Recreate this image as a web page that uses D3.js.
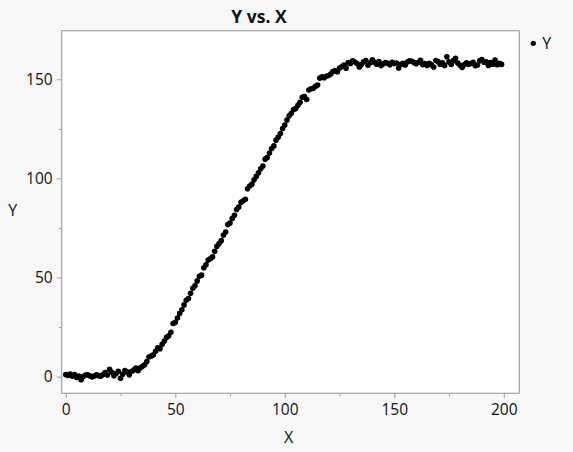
<!DOCTYPE html>
<html>
<head>
<meta charset="utf-8">
<script src="https://cdn.jsdelivr.net/npm/d3@7"></script>
<style>
  body { margin: 0; background: #f7f7f7; }
  text { font-family: "Open Sans", "Noto Sans", sans-serif; fill: #111; }
</style>
</head>
<body>
<script>
// X runs 0..199, one reading per step
const xValues = d3.range(0, 200);

// Y values, one per X
const yLow = [
  1.0, 0.6, 1.3, 0.2, 1.1, -0.4, 0.3, -1.6, 0.1, 0.8,
  0.9, 0.4, -0.2, 0.3, 0.9, 0.5, 0.2, 1.0, 2.1, 0.8,
  3.7, 2.2, 0.4, 1.6, 2.7, -0.8, 1.2, 3.1, 2.4, 0.9,
  2.6, 3.3, 4.3, 3.0, 4.5, 5.2, 6.0, 7.6, 9.9, 10.4
];
const yRise = [
  11.0, 12.8, 14.6, 14.1, 16.3, 18.0, 19.8, 20.6, 22.4, 26.8,
  27.4, 29.6, 31.9, 33.7, 36.2, 38.5, 39.4, 42.1, 44.6, 45.8,
  48.3, 50.6, 51.2, 54.9, 56.4, 58.8, 59.5, 60.4, 63.2, 65.8,
  67.1, 68.6, 71.4, 72.9, 76.7, 77.5, 79.8, 81.4, 84.3, 85.6,
  87.9, 88.7, 89.5, 94.8, 96.2, 97.1, 99.3, 101.0, 102.8, 104.9,
  106.2, 109.7, 110.5, 112.8, 115.1, 116.4, 119.3, 120.8, 122.6, 125.2,
  126.9, 129.4, 131.6, 132.8, 134.7, 135.2, 136.9, 138.4, 140.9, 141.3,
  139.8, 144.6, 145.2, 145.5, 146.4, 147.1, 150.6, 151.3, 150.8, 151.5,
  151.9, 152.6, 153.9, 154.4, 153.8, 155.7, 156.3, 157.2, 155.6, 158.4,
  158.0, 159.3, 158.7
];
const yPlateau = [
  157.9, 156.2, 157.4, 158.8, 159.5, 157.1, 158.3, 159.8, 158.5, 157.6,
  158.9, 156.9, 157.8, 158.4, 158.1, 157.3, 158.6, 157.9, 158.2, 155.7,
  157.5, 158.0, 157.2, 158.7, 159.3, 159.1, 158.4, 157.8, 158.6, 159.6,
  157.4, 157.9, 157.0, 158.1, 157.3, 156.2, 159.5, 158.9, 157.6, 158.3,
  157.0, 161.3, 158.8, 157.5, 159.4, 160.6, 158.2, 157.1, 155.9, 157.4,
  158.3, 157.6, 157.9, 158.5, 156.8, 157.2, 159.3, 159.9, 158.6, 158.8,
  157.0, 158.4, 157.6, 159.7, 157.3, 158.1, 157.5
];
const yValues = yLow.concat(yRise, yPlateau);

const xTicks = [0, 50, 100, 150, 200];
const xMinor = [25, 75, 125, 175];
const yTicks = [0, 50, 100, 150];
const yMinor = [25, 75, 125];

const width = 573, height = 452;
const frame = { left: 61.7, right: 519.3, top: 30.7, bottom: 393.3 };

const svg = d3.select("body").append("svg")
  .attr("width", width)
  .attr("height", height);

svg.append("rect")
  .attr("width", width).attr("height", height)
  .attr("fill", "#f7f7f7");

const x = d3.scaleLinear().domain([-1.87, 207.1]).range([frame.left, frame.right]);
const y = d3.scaleLinear().domain([-8.4, 174.5]).range([frame.bottom, frame.top]);

svg.append("rect")
  .attr("x", frame.left).attr("y", frame.top)
  .attr("width", frame.right - frame.left)
  .attr("height", frame.bottom - frame.top)
  .attr("fill", "#fff")
  .attr("stroke", "#a0a0a0")
  .attr("stroke-width", 1.2);

// axes
const xAxis = svg.append("g")
  .attr("transform", `translate(0,${frame.bottom})`)
  .call(d3.axisBottom(x).tickValues(xTicks).tickSize(5).tickPadding(6));
svg.append("g")
  .attr("transform", `translate(0,${frame.bottom})`)
  .call(d3.axisBottom(x).tickValues(xMinor).tickSize(3).tickFormat(""));

const yAxis = svg.append("g")
  .attr("transform", `translate(${frame.left},0)`)
  .call(d3.axisLeft(y).tickValues(yTicks).tickSize(5).tickPadding(4));
svg.append("g")
  .attr("transform", `translate(${frame.left},0)`)
  .call(d3.axisLeft(y).tickValues(yMinor).tickSize(3).tickFormat(""));

svg.selectAll(".domain").remove();
svg.selectAll(".tick line").attr("stroke", "#a0a0a0");
svg.selectAll(".tick text")
  .style("font-family", "'Open Sans', 'Noto Sans', sans-serif")
  .style("font-size", "15.5px")
  .attr("fill", "#111");

// title and axis labels
svg.append("text")
  .attr("x", 259).attr("y", 23)
  .attr("text-anchor", "middle")
  .style("font-size", "17.5px")
  .style("font-weight", "bold")
  .text("Y vs. X");

svg.append("text")
  .attr("x", 288.6).attr("y", 443)
  .attr("text-anchor", "middle")
  .style("font-size", "16px")
  .text("X");

svg.append("text")
  .attr("x", 12.8).attr("y", 216)
  .attr("text-anchor", "middle")
  .style("font-size", "16px")
  .text("Y");

// points
svg.append("g")
  .selectAll("circle")
  .data(xValues.map((d, i) => [d, yValues[i]]))
  .join("circle")
  .attr("cx", d => x(d[0]))
  .attr("cy", d => y(d[1]))
  .attr("r", 2.8)
  .attr("fill", "#000");

// legend
const legend = svg.append("g").attr("transform", "translate(533.3,43.3)");
legend.append("circle").attr("r", 2.6).attr("fill", "#000");
legend.append("text")
  .attr("x", 9).attr("y", 5.5)
  .style("font-size", "16px")
  .text("Y");
</script>
</body>
</html>
